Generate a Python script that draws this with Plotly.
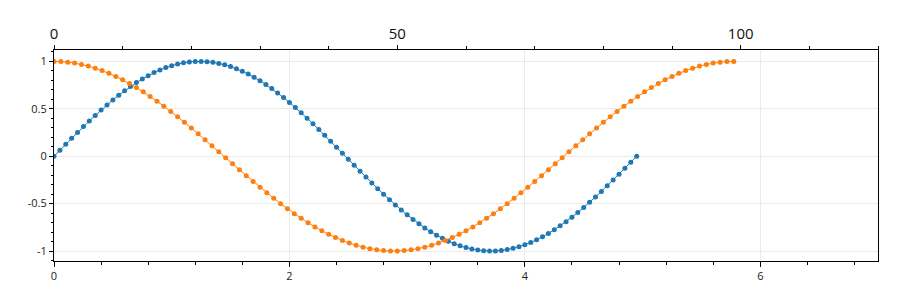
import plotly.graph_objects as go

# Bottom-axis series (blue)
blue_x = [0.00, 0.05, 0.10, 0.15, 0.20, 0.25, 0.30, 0.35, 0.40, 0.45,
          0.50, 0.55, 0.60, 0.65, 0.70, 0.75, 0.80, 0.85, 0.90, 0.95,
          1.00, 1.05, 1.10, 1.15, 1.20, 1.25, 1.30, 1.35, 1.40, 1.45,
          1.50, 1.55, 1.60, 1.65, 1.70, 1.75, 1.80, 1.85, 1.90, 1.95,
          2.00, 2.05, 2.10, 2.15, 2.20, 2.25, 2.30, 2.35, 2.40, 2.45,
          2.50, 2.55, 2.60, 2.65, 2.70, 2.75, 2.80, 2.85, 2.90, 2.95,
          3.00, 3.05, 3.10, 3.15, 3.20, 3.25, 3.30, 3.35, 3.40, 3.45,
          3.50, 3.55, 3.60, 3.65, 3.70, 3.75, 3.80, 3.85, 3.90, 3.95,
          4.00, 4.05, 4.10, 4.15, 4.20, 4.25, 4.30, 4.35, 4.40, 4.45,
          4.50, 4.55, 4.60, 4.65, 4.70, 4.75, 4.80, 4.85, 4.90, 4.95]
blue_y = [0, 0.0634, 0.1266, 0.1893, 0.2511, 0.3120, 0.3717, 0.4298, 0.4862, 0.5406,
          0.5929, 0.6428, 0.6901, 0.7346, 0.7761, 0.8146, 0.8497, 0.8815, 0.9096, 0.9342,
          0.9549, 0.9718, 0.9848, 0.9938, 0.9989,
          0.9999, 0.9969, 0.9898, 0.9788, 0.9639, 0.9450, 0.9224, 0.8960, 0.8660, 0.8324,
          0.7956, 0.7557, 0.7127, 0.6668, 0.6182, 0.5671, 0.5136, 0.4582, 0.4009, 0.3420,
          0.2817, 0.2203, 0.1580, 0.0951, 0.0317,
          -0.0317, -0.0951, -0.1580, -0.2203, -0.2817, -0.3420, -0.4009, -0.4582, -0.5136, -0.5671,
          -0.6182, -0.6668, -0.7127, -0.7557, -0.7956, -0.8324, -0.8660, -0.8960, -0.9224, -0.9450,
          -0.9639, -0.9788, -0.9898, -0.9969, -0.9999,
          -0.9989, -0.9938, -0.9848, -0.9718, -0.9549, -0.9342, -0.9096, -0.8815, -0.8497, -0.8146,
          -0.7761, -0.7346, -0.6901, -0.6428, -0.5929, -0.5406, -0.4862, -0.4298, -0.3717, -0.3120,
          -0.2511, -0.1893, -0.1266, -0.0634, 0]

# Top-axis series (orange), indexed 0..99
orange_x = list(range(100))
orange_y = [1, 0.9980, 0.9920, 0.9819, 0.9680, 0.9501, 0.9284, 0.9029, 0.8738, 0.8413,
            0.8053, 0.7660, 0.7237, 0.6785, 0.6306, 0.5801, 0.5272, 0.4722, 0.4154, 0.3569,
            0.2969, 0.2358, 0.1736, 0.1108, 0.0476,
            -0.0159, -0.0792, -0.1423, -0.2048, -0.2665, -0.3271, -0.3863, -0.4440, -0.5, -0.5541,
            -0.6057, -0.6549, -0.7015, -0.7453, -0.7861, -0.8237, -0.8580, -0.8888, -0.9161, -0.9397,
            -0.9595, -0.9754, -0.9874, -0.9955, -0.9995,
            -0.9995, -0.9955, -0.9874, -0.9754, -0.9595, -0.9397, -0.9161, -0.8888, -0.8580, -0.8237,
            -0.7861, -0.7453, -0.7015, -0.6549, -0.6057, -0.5541, -0.5, -0.4440, -0.3863, -0.3271,
            -0.2665, -0.2048, -0.1423, -0.0792, -0.0159,
            0.0476, 0.1108, 0.1736, 0.2358, 0.2969, 0.3569, 0.4154, 0.4722, 0.5272, 0.5801,
            0.6306, 0.6785, 0.7237, 0.7660, 0.8053, 0.8413, 0.8738, 0.9029, 0.9284, 0.9501,
            0.9680, 0.9819, 0.9920, 0.9980, 1]

y_ticks = [-1, -0.5, 0, 0.5, 1]
y_tick_text = ["-1", "-0.5", "0", "0.5", "1"]

BLUE = "#1f77b4"
ORANGE = "#ff7f0e"
FONT = "Open Sans"

fig = go.Figure()
fig.add_trace(go.Scatter(x=blue_x, y=blue_y, mode="lines+markers",
                         line=dict(color=BLUE, width=1),
                         marker=dict(color=BLUE, size=5),
                         xaxis="x", yaxis="y", showlegend=False))
fig.add_trace(go.Scatter(x=orange_x, y=orange_y, mode="lines+markers",
                         line=dict(color=ORANGE, width=1),
                         marker=dict(color=ORANGE, size=5),
                         xaxis="x2", yaxis="y", showlegend=False))

fig.update_layout(
    width=900, height=300,
    margin=dict(l=54, r=22, t=50, b=39),
    paper_bgcolor="white", plot_bgcolor="white",
    font=dict(family=FONT, color="#222"),
    xaxis=dict(range=[0, 7], tickmode="linear", tick0=0, dtick=2,
               showline=True, linecolor="black", linewidth=1,
               ticks="outside", ticklen=5, tickcolor="black", tickwidth=1,
               minor=dict(dtick=0.4, ticks="outside", ticklen=3, tickcolor="black", showgrid=False),
               showgrid=True, gridcolor="#ebebeb", gridwidth=1, zeroline=False,
               tickfont=dict(size=11, color="#222222", family=FONT)),
    xaxis2=dict(range=[0, 120], overlaying="x", side="top", anchor="y",
                tickmode="linear", tick0=0, dtick=50,
                showline=True, linecolor="black", linewidth=1,
                ticks="outside", ticklen=4, tickcolor="black", tickwidth=1,
                minor=dict(dtick=10, ticks="outside", ticklen=3, tickcolor="black", showgrid=False),
                showgrid=False, zeroline=False,
                tickfont=dict(size=15, color="#111111", family=FONT)),
    yaxis=dict(range=[-1.105, 1.12], tickmode="array", tickvals=y_ticks, ticktext=y_tick_text,
               showline=True, linecolor="black", linewidth=1, mirror=True,
               ticks="outside", ticklen=4, tickcolor="black", tickwidth=1,
               minor=dict(dtick=0.1, tick0=0, ticks="outside", ticklen=2, tickcolor="black", showgrid=False),
               showgrid=True, gridcolor="#ebebeb", gridwidth=1, zeroline=False,
               tickfont=dict(size=11, color="#222222", family=FONT)),
)

fig.write_html("out.html")
